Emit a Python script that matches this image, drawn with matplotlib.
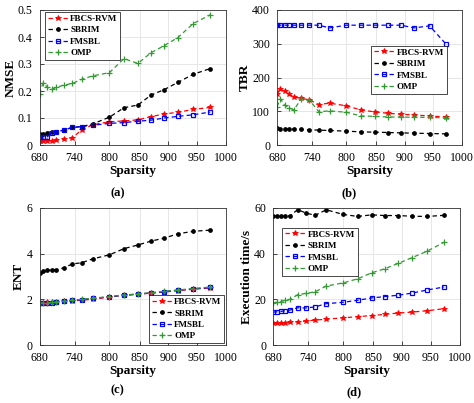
import numpy as np
import matplotlib
matplotlib.use("Agg")
import matplotlib.pyplot as plt

plt.rcParams['font.family'] = ['Liberation Serif', 'DejaVu Serif']

# sparsity levels (x values) shared by all four panels
sparsity = [680, 686, 693, 701, 709, 722, 736, 752, 771, 800, 824, 847, 870, 893, 917, 944, 973]

# tick labels on the x axis and where they sit along it (fraction of width)
tick_vals = [680, 740, 800, 850, 900, 950, 1000]
tick_frac = [0, 0.188, 0.375, 0.537, 0.69, 0.843, 1.0]

methods = ['FBCS-RVM', 'SBRIM', 'FMSBL', 'OMP']

# (a) NMSE
nmse_fbcs = [0.013, 0.013, 0.015, 0.016, 0.018, 0.022, 0.027, 0.055, 0.075, 0.086, 0.089, 0.093, 0.105, 0.115, 0.121, 0.132, 0.139]
nmse_sbrim = [0.042, 0.040, 0.046, 0.050, 0.048, 0.055, 0.065, 0.068, 0.078, 0.103, 0.138, 0.148, 0.185, 0.205, 0.232, 0.262, 0.283]
nmse_fmsbl = [0.030, 0.030, 0.030, 0.045, 0.048, 0.056, 0.065, 0.068, 0.073, 0.080, 0.083, 0.088, 0.092, 0.100, 0.106, 0.112, 0.122]
nmse_omp = [0.190, 0.230, 0.215, 0.206, 0.214, 0.222, 0.228, 0.243, 0.256, 0.268, 0.320, 0.302, 0.342, 0.368, 0.398, 0.450, 0.482]

# (b) TBR
tbr_fbcs = [152, 165, 160, 150, 143, 138, 134, 120, 124, 116, 104, 98, 94, 91, 89, 86, 83]
tbr_sbrim = [49, 48, 48, 47, 47, 46, 45, 44, 43, 41, 39, 38, 37, 36, 35, 34, 33]
tbr_fmsbl = [355, 355, 355, 355, 355, 355, 355, 355, 347, 355, 355, 355, 355, 355, 347, 353, 298]
tbr_omp = [114, 137, 118, 110, 104, 137, 133, 99, 101, 97, 86, 85, 83, 83, 82, 82, 80]

# (c) ENT
ent_fbcs = [1.85, 1.86, 1.87, 1.88, 1.89, 1.91, 1.93, 1.96, 2.00, 2.10, 2.17, 2.22, 2.27, 2.32, 2.38, 2.44, 2.50]
ent_sbrim = [3.15, 3.22, 3.27, 3.28, 3.30, 3.38, 3.55, 3.60, 3.77, 3.95, 4.22, 4.38, 4.55, 4.68, 4.87, 4.98, 5.03]
ent_fmsbl = [1.83, 1.84, 1.85, 1.86, 1.88, 1.91, 1.95, 1.99, 2.04, 2.11, 2.18, 2.23, 2.28, 2.34, 2.40, 2.46, 2.52]
ent_omp = [1.84, 1.85, 1.86, 1.87, 1.89, 1.92, 1.96, 2.00, 2.05, 2.12, 2.19, 2.24, 2.29, 2.35, 2.41, 2.47, 2.54]

# (d) execution time
time_fbcs = [9.5, 9.5, 9.6, 9.7, 9.9, 10.1, 10.5, 10.9, 11.3, 11.9, 12.4, 12.9, 13.4, 14.0, 14.4, 15.0, 15.9]
time_sbrim = [56.5, 56.5, 56.5, 56.5, 56.5, 59.3, 57.8, 56.8, 59.2, 57.2, 56.3, 57.0, 56.7, 56.7, 56.4, 56.3, 56.8]
time_fmsbl = [14.4, 14.5, 14.7, 15.0, 15.3, 16.3, 16.2, 16.7, 18.1, 18.7, 19.6, 20.6, 21.2, 21.8, 22.7, 24.1, 25.4]
time_omp = [18.3, 18.7, 19.0, 19.6, 20.0, 22.0, 22.6, 23.3, 25.8, 27.2, 29.0, 31.6, 33.4, 35.7, 38.2, 41.1, 45.0]

styles = [
    dict(color='#ff0000', marker='*', ms=4.2, mfc='#ff0000', mew=0.6),
    dict(color='black', marker='o', ms=2.4, mfc='black'),
    dict(color='#0000ff', marker='s', ms=3.0, mfc='none', mew=0.9),
    dict(color='#339933', marker='+', ms=3.8, mew=0.9),
]

fig = plt.figure(figsize=(4.74, 4.03), dpi=100)

W, H = 474.0, 403.0
boxes = {
    'a': (39.5, 10, 186.5, 135),
    'b': (277, 10, 185, 135),
    'c': (39.5, 208, 186.5, 137),
    'd': (273, 208, 187, 137),
}

panels = [
    ('a', 'NMSE', [nmse_fbcs, nmse_sbrim, nmse_fmsbl, nmse_omp], (0, 0.5), [0, 0.1, 0.2, 0.3, 0.4, 0.5],
     ['0', '0.1', '0.2', '0.3', '0.4', '0.5'], dict(loc='upper left', bbox_to_anchor=(0.02, 1.0))),
    ('b', 'TBR', [tbr_fbcs, tbr_sbrim, tbr_fmsbl, tbr_omp], (0, 400), [0, 100, 200, 300, 400],
     None, dict(loc='upper left', bbox_to_anchor=(0.5, 0.75))),
    ('c', 'ENT', [ent_fbcs, ent_sbrim, ent_fmsbl, ent_omp], (0, 6), [0, 2, 4, 6],
     None, dict(loc='lower right', bbox_to_anchor=(1.0, 0.0))),
    ('d', 'Execution time/s', [time_fbcs, time_sbrim, time_fmsbl, time_omp], (0, 60), [0, 20, 40, 60],
     None, dict(loc='upper left', bbox_to_anchor=(0.04, 0.87))),
]

captions = {'a': (118, 193), 'b': (349, 193), 'c': (117, 390), 'd': (354, 392)}

# map sparsity values onto the (unevenly labelled) axis
x_pos = np.interp(sparsity, tick_vals, tick_frac)

for key, ylab, series, ylim, yticks, ytl, leg_kw in panels:
    x0, y0, w, h = boxes[key]
    ax = fig.add_axes([x0 / W, 1 - (y0 + h) / H, w / W, h / H])
    for vals, name, st in zip(series, methods, styles):
        ax.plot(x_pos, vals, linestyle='--', lw=0.9, label=name, dashes=(3.5, 2.5), **st)
    ax.set_xlim(0, 1)
    ax.set_ylim(*ylim)
    ax.set_xticks(tick_frac)
    ax.set_xticklabels([str(v) for v in tick_vals])
    ax.set_yticks(yticks)
    if ytl is not None:
        ax.set_yticklabels(ytl)
    ax.tick_params(direction='in', length=3, width=0.5, labelsize=8.5)
    ax.tick_params(axis='x', pad=5)
    ax.tick_params(axis='y', pad=5)
    ax.grid(True, color='#e3e3e3', lw=0.6)
    ax.set_axisbelow(True)
    for sp in ax.spines.values():
        sp.set_linewidth(0.6)
        sp.set_color('#333333')
    ax.set_xlabel('Sparsity', fontsize=9.5, fontweight='bold', labelpad=1)
    ax.set_ylabel(ylab, fontsize=9.5, fontweight='bold', labelpad=1)
    leg = ax.legend(prop=dict(size=6.5, weight='bold'), fancybox=False, framealpha=1,
                    edgecolor='black', borderpad=0.3, labelspacing=0.35, handlelength=2.2,
                    handletextpad=0.3, borderaxespad=0.2, **leg_kw)
    leg.get_frame().set_linewidth(0.5)
    cx, cy = captions[key]
    fig.text(cx / W, 1 - cy / H, '(' + key + ')', ha='center', va='center',
             fontsize=9, fontweight='bold')

fig.savefig('out.png', dpi=100)
